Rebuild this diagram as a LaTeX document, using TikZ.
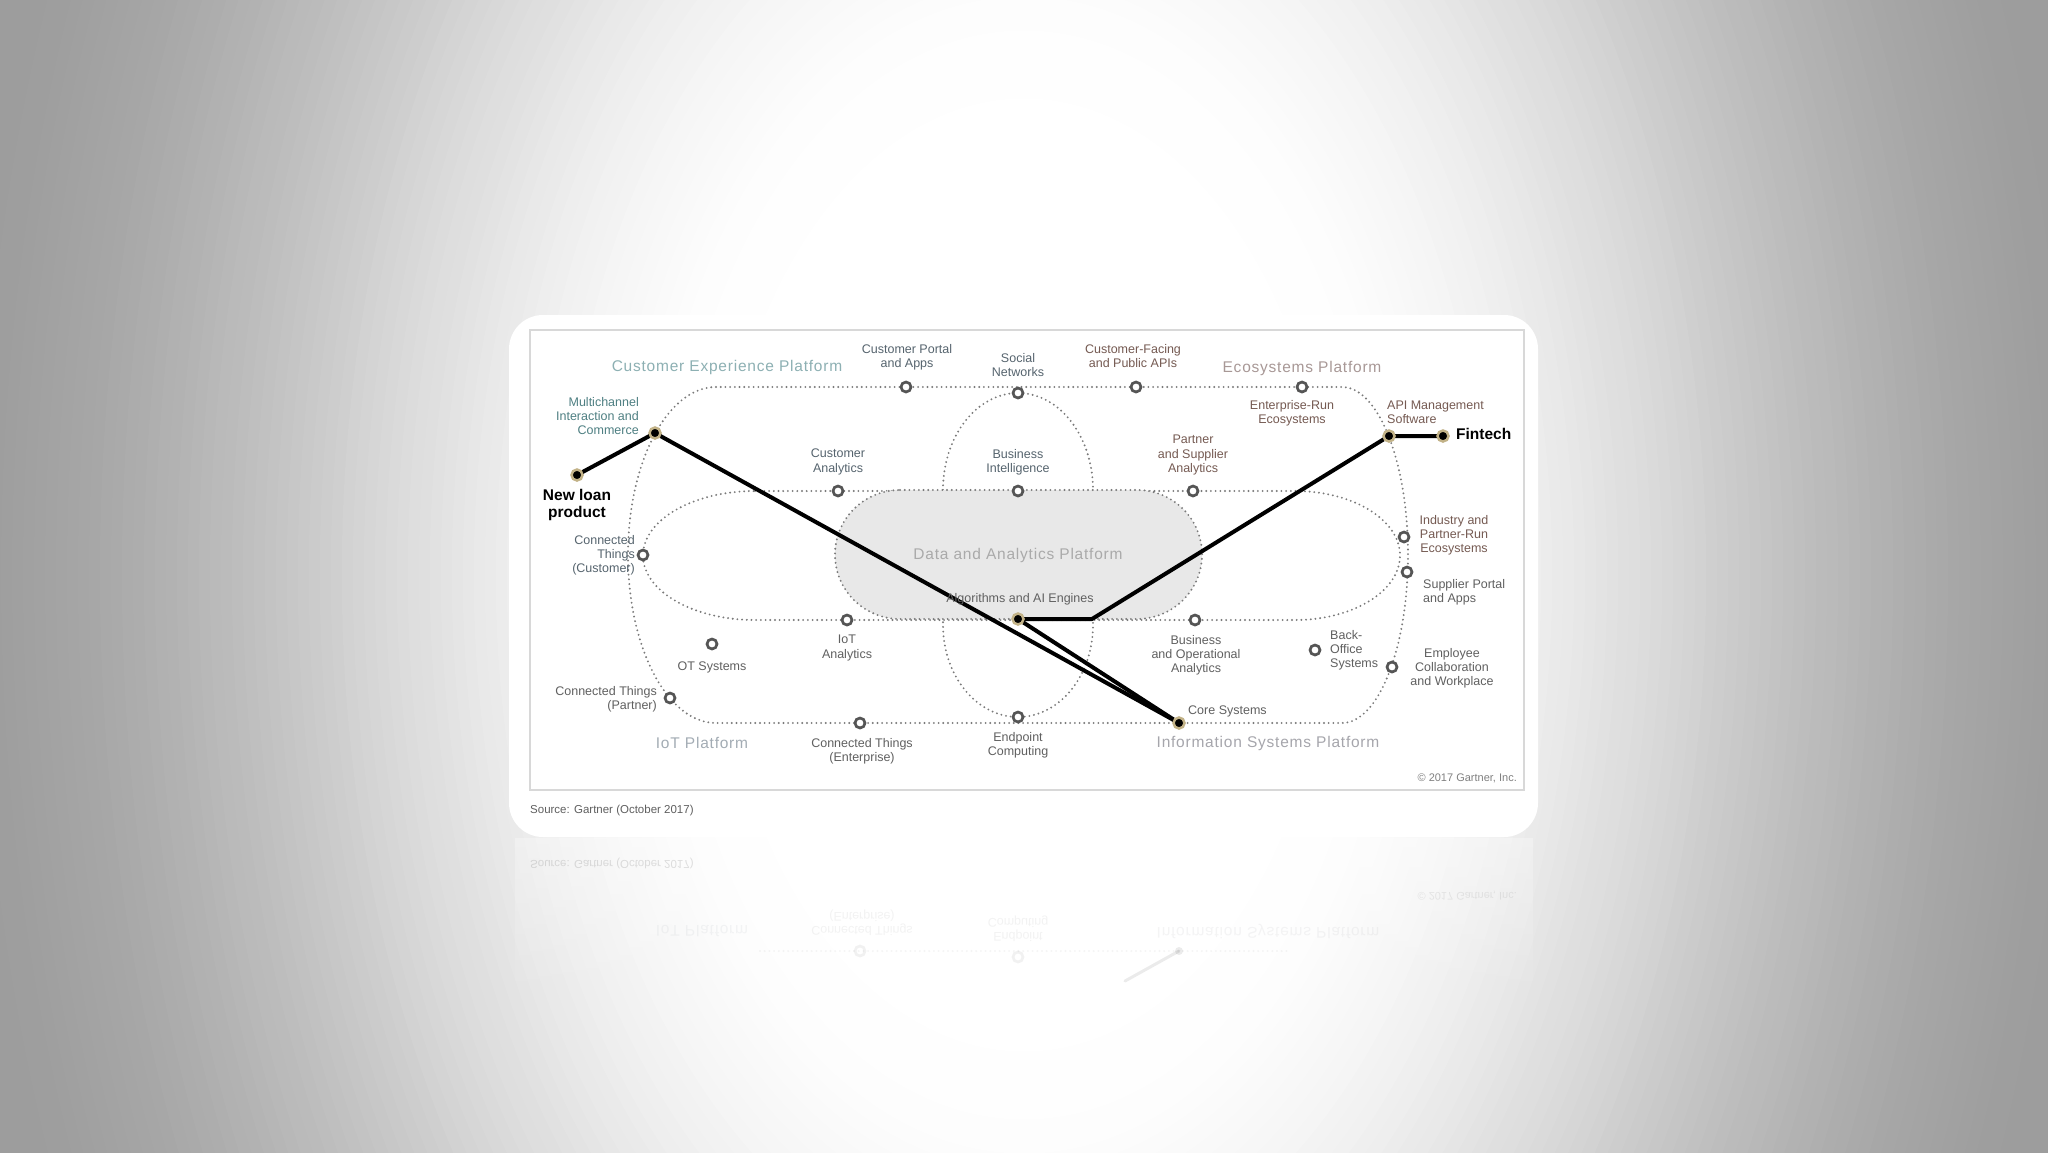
\documentclass[tikz,border=0pt]{standalone}
\usepackage{fontspec}
\setmainfont{Liberation Sans}
\newfontfamily\ttlfont[LetterSpace=5]{Liberation Sans}
\usetikzlibrary{fadings}
\definecolor{glowe}{HTML}{9D9D9D}
\definecolor{dotc}{HTML}{7A7A7A}
\definecolor{occ}{HTML}{555555}
\definecolor{haloc}{HTML}{C2B287}
\definecolor{framec}{HTML}{D8D8D8}
\definecolor{dagray}{HTML}{E8E8E8}
\definecolor{tealtxt}{HTML}{4E7F82}
\definecolor{slatetxt}{HTML}{56646E}
\definecolor{browntxt}{HTML}{755A52}
\definecolor{graytxt}{HTML}{606060}
\definecolor{ttlteal}{HTML}{8DB0B3}
\definecolor{ttlbrown}{HTML}{A89896}
\definecolor{ttlblue}{HTML}{A3ACB4}
\definecolor{ttlgray}{HTML}{A6A6AC}
\definecolor{datxt}{HTML}{AAAAAA}
\pgfdeclarelayer{bg}
\pgfdeclarelayer{lines}
\pgfsetlayers{bg,lines,main}
\tikzset{
  dotline/.style={draw=dotc, line width=2.1pt, line cap=round, dash pattern=on 0pt off 4.7pt},
  oc/.style={circle, draw=occ, line width=2.7pt, fill=white, minimum size=10pt, inner sep=0pt},
  bd/.style={circle, fill=black, draw=haloc, line width=2.5pt, minimum size=11pt, inner sep=0pt},
  lbl/.style={font=\fontsize{12.5}{14.2}\selectfont, align=center, inner sep=0pt, text=graytxt},
  ttl/.style={font=\ttlfont\fontsize{15.5}{18}\selectfont, inner sep=0pt},
  boldlbl/.style={font=\bfseries\fontsize{15.5}{17}\selectfont, align=center, inner sep=0pt, text=black},
  blk/.style={line width=4pt, draw=black, line join=round, line cap=round},
  mirror/.style={yscale=-1}
}
\begin{document}
\begin{tikzpicture}[x=1pt,y=1pt]
\useasboundingbox (0,0) rectangle (2048,-1152);
\begin{pgfonlayer}{bg}
  \fill[glowe] (0,0) rectangle (2048,-1152);
  \begin{scope}
    \clip (0,0) rectangle (2048,-1152);
    \foreach \gi in {0,...,75} {
      \pgfmathsetmacro{\glr}{1-\gi*0.01}
      \pgfmathsetmacro{\glt}{max(0,min(1,(1-\glr)/0.72))}
      \pgfmathtruncatemacro{\glg}{157+98*(3*\glt*\glt-2*\glt*\glt*\glt)}
      \definecolor{glowtmp}{RGB}{\glg,\glg,\glg}
      \fill[glowtmp] (1024,-575) ellipse [x radius=\glr*1100pt, y radius=\glr*1700pt];
    }
  \end{scope}
  \fill[white, path fading=south, opacity=0.3] (515,-838) rectangle (1533,-1000);
  \fill[white, rounded corners=34pt] (509,-315) rectangle (1538,-837);
  \draw[framec, line width=1.5pt] (530,-330) rectangle (1524,-790);
  % outer loop
  \draw[dotline] (716,-387) -- (1342,-387) arc[start angle=90, end angle=-90, x radius=66pt, y radius=168pt] -- (716,-723) arc[start angle=270, end angle=90, x radius=88pt, y radius=168pt] -- cycle;
  % inner loop
  \draw[dotline] (755,-491) -- (1295,-491) arc[start angle=90, end angle=-90, x radius=105pt, y radius=64.5pt] -- (755,-620) arc[start angle=270, end angle=90, x radius=112pt, y radius=64.5pt] -- cycle;
  % central vertical loop
  \draw[dotline] (943,-490) arc[start angle=180, end angle=0, x radius=75pt, y radius=97pt] -- (1093,-625) arc[start angle=0, end angle=-180, x radius=75pt, y radius=92pt] -- cycle;
  % data and analytics platform
  \filldraw[dotline, fill=dagray] (900,-490) -- (1137,-490) arc[start angle=90, end angle=-90, x radius=65pt, y radius=64.5pt] -- (900,-619) arc[start angle=270, end angle=90, x radius=65pt, y radius=64.5pt] -- cycle;
  \node[ttl, text=datxt] (datitle) at (1018,-555) {Data and Analytics Platform};
  % faint reflection below the card
  \begin{scope}[opacity=0.08]
    \draw[dotline] (760,-951) -- (1290,-951);
    \node[oc] (rctec) at (860,-951) {};
    \node[oc] (repc) at (1018,-957) {};
    \coordinate (rlineend) at (1125,-981);
    \node[bd, draw=none, minimum size=8pt] (rcsd) at (1179,-951) {};
    \draw[blk, line width=3pt] (rcsd.center) -- (rlineend);
    \node[lbl, mirror] (rctel) at (862,-923) {Connected Things\\(Enterprise)};
    \node[lbl, mirror] (repl) at (1018,-929) {Endpoint\\Computing};
  \end{scope}
  \begin{scope}[opacity=0.12]
    \node[ttl, text=ttlblue, mirror] (riott) at (702,-931) {IoT Platform};
    \node[ttl, text=ttlgray, mirror] (rist) at (1268,-931) {Information Systems Platform};
    \node[font=\fontsize{11}{13}\selectfont, text=graytxt, anchor=east, inner sep=0pt, mirror] (rcpy) at (1517,-896) {\textcopyright{} 2017 Gartner, Inc.};
  \end{scope}
  \node[font=\fontsize{11.5}{13}\selectfont, text=graytxt, anchor=west, inner sep=0pt, mirror, opacity=0.2] (rsrc) at (530,-863) {Source: Gartner (October 2017)};
\end{pgfonlayer}

% platform titles
\node[ttl, text=ttlteal] (cxt) at (727,-367) {Customer Experience Platform};
\node[ttl, text=ttlbrown] (ect) at (1302,-368) {Ecosystems Platform};
\node[ttl, text=ttlblue] (iott) at (702,-743) {IoT Platform};
\node[ttl, text=ttlgray] (ist) at (1268,-743) {Information Systems Platform};

% open circles
\node[oc] (cpc) at (906,-387) {};
\node[oc] (snc) at (1018,-393) {};
\node[oc] (cfc) at (1136,-387) {};
\node[oc] (erc) at (1302,-387) {};
\node[oc] (cac) at (838,-491) {};
\node[oc] (bic) at (1018,-491) {};
\node[oc] (psc) at (1193,-491) {};
\node[oc] (ctcc) at (643,-555) {};
\node[oc] (inc) at (1404,-537) {};
\node[oc] (spc) at (1407,-572) {};
\node[oc] (iac) at (847,-620) {};
\node[oc] (boc) at (1195,-620) {};
\node[oc] (otc) at (712,-644) {};
\node[oc] (bsc) at (1315,-650) {};
\node[oc] (ewc) at (1392,-667) {};
\node[oc] (ctpc) at (670,-698) {};
\node[oc] (ctec) at (860,-723) {};
\node[oc] (epc) at (1018,-717) {};

% black dots
\node[bd] (nld) at (577,-475) {};
\node[bd] (mcd) at (655,-433) {};
\node[bd] (csd) at (1179,-723) {};
\node[bd] (ald) at (1018,-619) {};
\node[bd] (apd) at (1389,-436) {};
\node[bd] (fid) at (1443,-436) {};
\coordinate (bend) at (1092,-619);

\begin{pgfonlayer}{lines}
  \draw[blk] (nld.center) -- (mcd.center) -- (csd.center);
  \draw[blk] (ald.center) -- (csd.center);
  \draw[blk] (ald.center) -- (bend) -- (apd.center) -- (fid.center);
\end{pgfonlayer}

% labels
\node[lbl, text=slatetxt] (cpl) at (907,-357) {Customer Portal\\and Apps};
\node[lbl, text=slatetxt] (snl) at (1018,-365) {Social\\Networks};
\node[lbl, text=browntxt] (cfl) at (1133,-356) {Customer-Facing\\and Public APIs};
\node[lbl, text=browntxt] (erl) at (1292,-413) {Enterprise-Run\\Ecosystems};
\node[lbl, text=browntxt, anchor=west, align=left] (apl) at (1387,-412) {API Management\\Software};
\node[boldlbl, anchor=west] (fil) at (1456,-434) {Fintech};
\node[lbl, text=tealtxt, anchor=east, align=right] (mcl) at (639,-416) {Multichannel\\Interaction and\\Commerce};
\node[boldlbl] (nll) at (577,-505) {New loan\\product};
\node[lbl, text=slatetxt] (cal) at (838,-462) {Customer\\Analytics};
\node[lbl, text=slatetxt] (bil) at (1018,-462) {Business\\Intelligence};
\node[lbl, text=browntxt] (psl) at (1193,-455) {Partner\\and Supplier\\Analytics};
\node[lbl, text=slatetxt, anchor=east, align=right] (ctcl) at (635,-555) {Connected\\Things\\(Customer)};
\node[lbl, text=browntxt] (inl) at (1454,-535) {Industry and\\Partner-Run\\Ecosystems};
\node[lbl, anchor=west, align=left] (spl) at (1423,-592) {Supplier Portal\\and Apps};
\node[lbl] (ial) at (847,-648) {IoT\\Analytics};
\node[lbl] (otl) at (712,-667) {OT Systems};
\node[lbl, anchor=east, align=right] (ctpl) at (657,-699) {Connected Things\\(Partner)};
\node[lbl] (bol) at (1196,-655) {Business\\and Operational\\Analytics};
\node[lbl, anchor=west, align=left] (bsl) at (1330,-650) {Back-\\Office\\Systems};
\node[lbl] (ewl) at (1452,-668) {Employee\\Collaboration\\and Workplace};
\node[lbl, anchor=west] (csl) at (1188,-711) {Core Systems};
\node[lbl] (ctel) at (862,-751) {Connected Things\\(Enterprise)};
\node[lbl] (epl) at (1018,-745) {Endpoint\\Computing};
\node[lbl] (all) at (1020,-599) {Algorithms and AI Engines};
\node[font=\fontsize{11}{13}\selectfont, text=graytxt!80, anchor=east, inner sep=0pt] (cpy) at (1517,-778) {\textcopyright{} 2017 Gartner, Inc.};
\node[font=\fontsize{11.5}{13}\selectfont, text=graytxt, anchor=west, inner sep=0pt] (src) at (530,-811) {Source: Gartner (October 2017)};
\end{tikzpicture}
\end{document}
